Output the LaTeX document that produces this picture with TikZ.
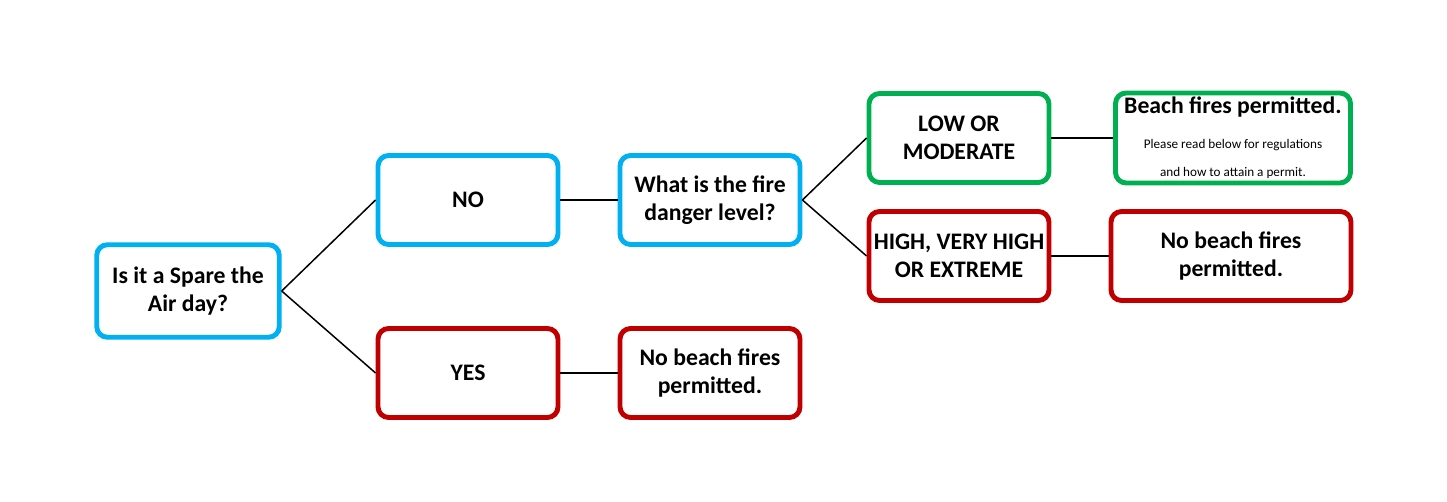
\documentclass[tikz,border=0pt]{standalone}
\usepackage{fontspec}
\setmainfont{Carlito}
\definecolor{skyblue}{HTML}{00B0F0}
\definecolor{okgreen}{HTML}{00B050}
\definecolor{stopred}{HTML}{C00000}
\newcommand{\smalltxt}{\mdseries\fontsize{7.5}{9}\selectfont}
\begin{document}
\begin{tikzpicture}[x=0.02cm, y=-0.02cm,
    box/.style={draw, rounded corners=6pt, line width=2.8pt, align=center,
      font=\bfseries\fontsize{13.5}{16}\selectfont, inner sep=0pt},
    ask/.style={box, draw=skyblue},
    go/.style={box, draw=okgreen},
    stop/.style={box, draw=stopred}]
  \useasboundingbox (0,0) rectangle (1447,502);
  \node[ask, minimum width=3.65cm, minimum height=1.85cm] (air) at (188,291) {Is it a Spare the\\Air day?};
  \begin{scope}[every node/.append style={minimum width=3.6cm, minimum height=1.78cm}]
    \node[ask] (no) at (468,200) {NO};
    \node[stop] (yes) at (468,373) {YES};
    \node[ask] (level) at (710,200) {What is the fire\\danger level?};
    \node[stop] (nofire) at (710,373) {No beach fires\\permitted.};
    \node[go] (low) at (959,138) {LOW OR\\MODERATE};
    \node[stop] (high) at (959,256) {HIGH, VERY HIGH\\OR EXTREME};
  \end{scope}
  \node[go, minimum width=4.7cm, minimum height=1.8cm] (fire) at (1233,138)
    {Beach fires permitted.\\[4pt]\smalltxt Please read below for regulations\\\smalltxt and how to attain a permit.};
  \node[stop, minimum width=4.8cm, minimum height=1.78cm] (nofire2) at (1231,256) {No beach fires\\permitted.};
  \begin{scope}[line width=0.85pt]
    \draw (air.east) -- (no.west);
    \draw (air.east) -- (yes.west);
    \draw (no) -- (level);
    \draw (yes) -- (nofire);
    \draw (level.east) -- (low.west);
    \draw (level.east) -- (high.west);
    \draw (low) -- (fire);
    \draw (high) -- (nofire2);
  \end{scope}
\end{tikzpicture}
\end{document}
